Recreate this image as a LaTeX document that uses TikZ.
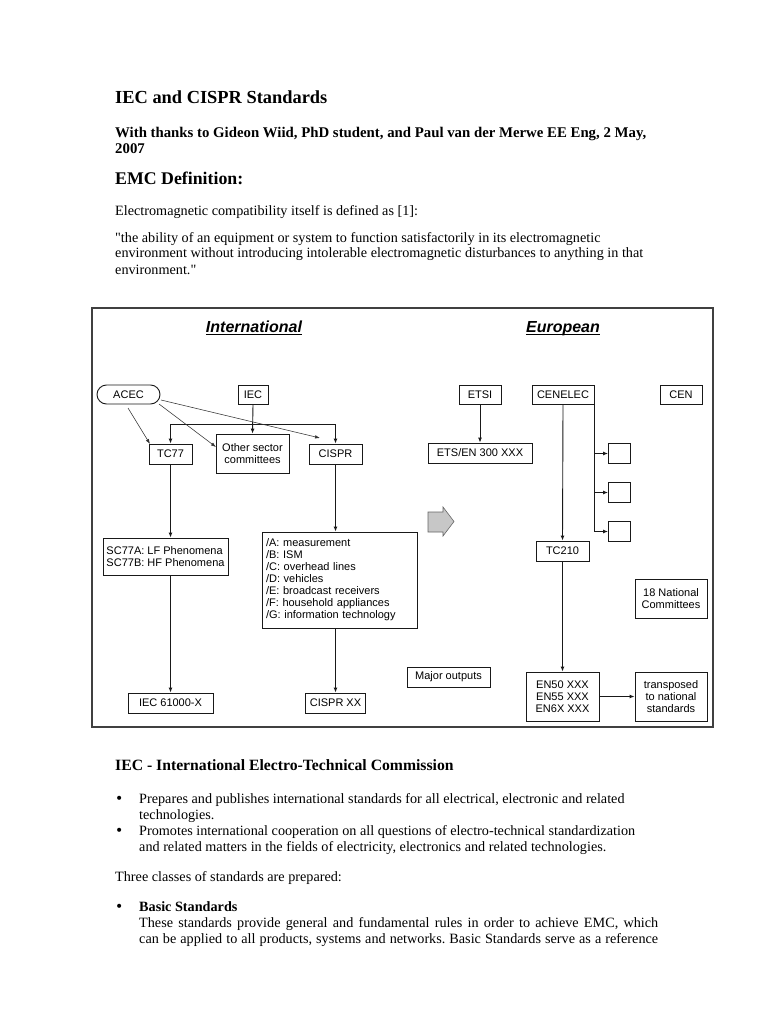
\documentclass[tikz,border=0pt]{standalone}
\usepackage{fontspec}
\setmainfont{Liberation Serif}
\setsansfont{Liberation Sans}
\newfontfamily\bulletfont{DejaVu Sans}
\newfontfamily\quotefont{Liberation Serif}
\usetikzlibrary{arrows.meta}
\frenchspacing
\begin{document}
\begin{tikzpicture}[x=1pt,y=-1pt,
  txt/.style={anchor=base west, inner sep=0pt, font=\fontsize{14.2}{16}\selectfont},
  btxt/.style={anchor=base west, inner sep=0pt, font=\bfseries\fontsize{14.2}{16}\selectfont},
  bul/.style={anchor=base west, inner sep=0pt, font=\bulletfont\fontsize{14}{16}\selectfont},
  box/.style={draw=black!90, line width=0.9pt, inner sep=1pt, font=\sffamily\fontsize{11}{12}\selectfont, align=center},
  arr/.style={-{Latex[length=5pt,width=4pt]}, line width=0.9pt, draw=black!90},
  thin/.style={-{Latex[length=5pt,width=3.5pt]}, line width=0.55pt, draw=black!80},
  head/.style={inner sep=0pt, font=\sffamily\bfseries\itshape\fontsize{16}{18}\selectfont}]
\useasboundingbox[fill=white] (0,0) rectangle (768,1024);

% ---- text above ----
\node[anchor=base west, inner sep=0pt, font=\bfseries\fontsize{18.4}{20}\selectfont] (title) at (115,104) {IEC and CISPR Standards};
\node[btxt, font=\bfseries\fontsize{14.8}{16}\selectfont] (sub1) at (115,138) {With thanks to Gideon Wiid, PhD student, and Paul van der Merwe EE Eng, 2 May,};
\node[btxt, font=\bfseries\fontsize{14.8}{16}\selectfont] (sub2) at (115,154) {2007};
\node[anchor=base west, inner sep=0pt, font=\bfseries\fontsize{17.8}{19}\selectfont] (emc) at (115,185) {EMC Definition:};
\node[txt] (def) at (115,215) {Electromagnetic compatibility itself is defined as [1]:};
\node[txt] (q1) at (115,242) {{\quotefont"}the ability of an equipment or system to function satisfactorily in its electromagnetic};
\node[txt] (q2) at (115,258) {environment without introducing intolerable electromagnetic disturbances to anything in that};
\node[txt] (q3) at (115,274) {environment.{\quotefont"}};

% ---- diagram frame ----
\draw[line width=1.3pt, draw=black!75] (92,308) rectangle (713,727);
\node[head, anchor=base] (intl) at (254,332) {International};
\node[head, anchor=base] (euro) at (563,332) {European};
\draw[line width=1.4pt] ([yshift=-2.5pt]intl.base west) -- ([yshift=-2.5pt]intl.base east);
\draw[line width=1.4pt] ([yshift=-2.5pt]euro.base west) -- ([yshift=-2.5pt]euro.base east);

% top row
\node[box, rounded corners=9.5pt, minimum width=63pt, minimum height=19pt] (acec) at (128.5,394.5) {ACEC};
\node[box, minimum width=30pt, minimum height=19pt] (iec) at (253,394.5) {IEC};
\node[box, minimum width=42pt, minimum height=19pt] (etsi) at (480,394.5) {ETSI};
\node[box, minimum width=62pt, minimum height=19pt] (cenelec) at (563,394.5) {CENELEC};
\node[box, minimum width=42pt, minimum height=19pt] (cen) at (681,394.5) {CEN};

% second row
\node[box, minimum width=43pt, minimum height=20pt] (tc77) at (170.5,454) {TC77};
\node[box, minimum width=73pt, minimum height=39pt] (other) at (252.5,453.5) {Other sector\\committees};
\node[box, minimum width=53pt, minimum height=20pt] (cispr) at (335.5,454) {CISPR};
\node[box, minimum width=104pt, minimum height=20pt] (etsen) at (480,453) {ETS/EN 300 XXX};
\node[box, minimum width=22pt, minimum height=20pt] (e1) at (619.5,453.5) {};
\node[box, minimum width=22pt, minimum height=20pt] (e2) at (619.5,492.5) {};
\node[box, minimum width=22pt, minimum height=20pt] (e3) at (619.5,531.5) {};

% third row
\node[box, align=left, minimum width=125pt, minimum height=37pt] (sc77) at (165.5,556.5) {SC77A: LF Phenomena\\SC77B: HF Phenomena};
\node[box, align=left, text width=147pt, inner xsep=4pt, minimum height=96pt] (list) at (339.5,580) {/A: measurement\\/B: ISM\\/C: overhead lines\\/D: vehicles\\/E: broadcast receivers\\/F: household appliances\\/G: information technology};
\node[box, minimum width=53pt, minimum height=20pt] (tc210) at (562.5,551) {TC210};
\node[box, minimum width=72pt, minimum height=39pt] (natl) at (671,598.5) {18 National\\Committees};

% big grey arrow
\draw[line width=0.6pt, draw=black!60, fill=black!22] (428,512) -- (443,512) -- (443,507) -- (454,521.5) -- (443,536) -- (443,532) -- (428,532) -- cycle;

% bottom row
\node[box, minimum width=85pt, minimum height=20pt] (iec61000) at (170.5,703) {IEC 61000-X};
\node[box, minimum width=60pt, minimum height=20pt] (cisprxx) at (335.5,703) {CISPR XX};
\node[box, minimum width=83pt, minimum height=20pt] (major) at (448.5,677) {Major outputs};
\node[box, minimum width=73pt, minimum height=49pt] (en50) at (562.5,696.5) {EN50 XXX\\EN55 XXX\\EN6X XXX};
\node[box, minimum width=72pt, minimum height=49pt] (transp) at (671,696.5) {transposed\\to national\\standards};

% connectors international
\coordinate (hl) at (170.5,424);
\coordinate (hr) at (335.5,424);
\draw[arr] (iec.south) -- (other.north);
\draw[line width=0.9pt, draw=black!90] (hl) -- (hr);
\draw[arr] (hl) -- (tc77.north);
\draw[arr] (hr) -- (cispr.north);
\coordinate (a1s) at (128,408);
\coordinate (a1e) at (150,444);
\coordinate (a2s) at (159,404);
\coordinate (a2e) at (216,447);
\coordinate (a3s) at (161,400);
\coordinate (a3e) at (320,438);
\draw[thin] (a1s) -- (a1e);
\draw[thin] (a2s) -- (a2e);
\draw[thin] (a3s) -- (a3e);
\draw[arr] (tc77.south) -- (tc77.south |- sc77.north);
\draw[arr] (tc77.south |- sc77.south) -- (iec61000.north);
\draw[arr] (cispr.south) -- (cispr.south |- list.north);
\draw[arr] (cispr.south |- list.south) -- (cisprxx.north);

% connectors european
\draw[arr] (etsi.south) -- (etsen.north);
\draw[arr] (cenelec.south) -- (tc210.north);
\coordinate (cr) at (594,404);
\coordinate (cb) at (594,531.5);
\draw[line width=0.9pt, draw=black!90] (cr) -- (cb);
\draw[arr] (cr |- e1.west) -- (e1.west);
\draw[arr] (cr |- e2.west) -- (e2.west);
\draw[arr] (cb) -- (e3.west);
\draw[arr] (tc210.south) -- (en50.north);
\draw[arr] (en50.east) -- (transp.west);

% ---- text below ----
\node[anchor=base west, inner sep=0pt, font=\bfseries\fontsize{15.7}{18}\selectfont] (iechead) at (115,770) {IEC - International Electro-Technical Commission};
\node[bul] (b1) at (115,803) {•};
\node[txt] (l1) at (139,803) {Prepares and publishes international standards for all electrical, electronic and related};
\node[txt] (l2) at (139,819) {technologies.};
\node[bul] (b2) at (115,835) {•};
\node[txt] (l3) at (139,835) {Promotes international cooperation on all questions of electro-technical standardization};
\node[txt] (l4) at (139,851) {and related matters in the fields of electricity, electronics and related technologies.};
\node[txt] (three) at (115,881) {Three classes of standards are prepared:};
\node[bul] (b3) at (115,911) {•};
\node[btxt] (basic) at (139,911) {Basic Standards};
\node[txt] (l5) at (139,927) {\makebox[519pt][s]{These standards provide general and fundamental rules in order to achieve EMC, which}};
\node[txt] (l6) at (139,943) {\makebox[519pt][s]{can be applied to all products, systems and networks. Basic Standards serve as a reference}};
\end{tikzpicture}
\end{document}
